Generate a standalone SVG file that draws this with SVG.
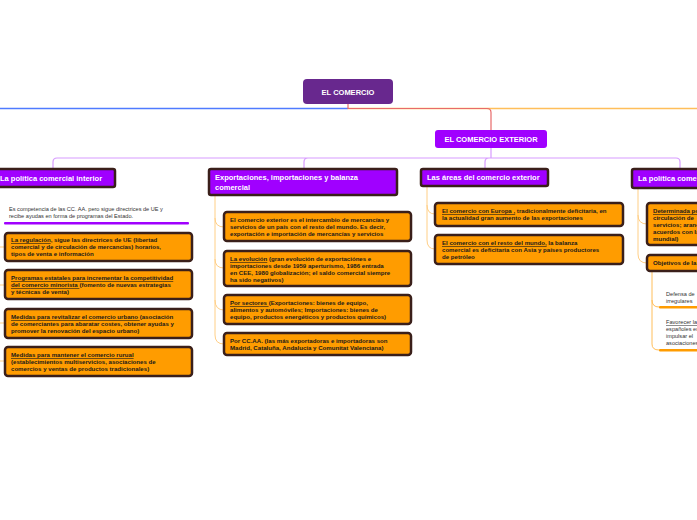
<svg xmlns="http://www.w3.org/2000/svg" width="697" height="520" viewBox="0 0 697 520">
<style>
.hd{fill:#a000ff;stroke:#3a1f1a;stroke-width:2.5}
.ob{fill:#ff9c00;stroke:#3a1f1a;stroke-width:2.5}
.ht{font-family:"Liberation Sans",Arial,sans-serif;font-weight:bold;fill:#fff;font-size:7.5px}
.bt{font-family:"Liberation Sans",Arial,sans-serif;font-weight:bold;fill:#1a1a1a;font-size:6.1px}
.pt{font-family:"Liberation Sans",Arial,sans-serif;fill:#333;font-size:5.6px}
.u{text-decoration:underline}
.ol{fill:none;stroke:#ffcf86;stroke-width:1}
.pl{fill:none;stroke:#d79bff;stroke-width:1.2}
</style>
<g id="connectors">
<path d="M0 108.5H348" stroke="#4f7bff" stroke-width="1.3" fill="none"/>
<path d="M348 108.5H697" stroke="#ffbe5a" stroke-width="1.3" fill="none"/>
<path d="M348 104V108.5H487q4 0 4 4V131" stroke="#e86a6a" stroke-width="1.2" fill="none"/>
<path class="pl" d="M491 147V158M57 158H676q4 0 4 4v8M53 170v-8q0-4 4-4M304 170v-8q0-4 4-4M485 170v-8q0-4 4-4"/>
<path class="ol" d="M215 195V335q0 9 9 9M215 218q0 9 9 9M215 259q0 9 9 9M215 300q0 10 9 10"/>
<path class="ol" d="M427 186V240q0 9 8 9M427 205q0 9 8 9"/>
<path class="ol" d="M638 188V254q0 9 9 9M638 215q0 9 9 9"/>
<path d="M652 271V344q0 6 7 6M652 300q0 7 7 7" fill="none" stroke="#ffbe5a" stroke-width="1"/>
<path class="ol" d="M0 247h5M0 285h5M0 323h5M0 361h5"/>
</g>
<g id="root"><rect x="303" y="79" width="90" height="25" rx="4" fill="#68288e"/><text class="ht" x="348" y="95" text-anchor="middle" font-size="8.5">EL COMERCIO</text></g>
<g id="exterior"><rect x="435" y="130" width="112" height="18" rx="3" fill="#a000ff"/><text class="ht" x="491" y="142" text-anchor="middle" font-size="6.5">EL COMERCIO EXTERIOR</text></g>
<g id="interior"><rect class="hd" x="-5" y="169" width="120" height="18" rx="2"/><text class="ht" x="0" y="181">La política comercial interior</text></g>
<g id="interior-desc"><text class="pt" x="9" y="211">Es competencia de las CC. AA. pero sigue directrices de UE y</text><text class="pt" x="9" y="218">recibe ayudas en forma de programas del Estado.</text><rect x="4" y="222" width="185" height="2.5" rx="1" fill="#a000ff"/></g>
<g id="i1"><rect class="ob" x="5" y="233" width="187" height="28" rx="3"/><text class="bt" x="11" y="242"><tspan class="u">La regulación</tspan>, sigue las directrices de UE (libertad</text><text class="bt" x="11" y="249">comercial y de circulación de mercancías) horarios,</text><text class="bt" x="11" y="256">tipos de venta e información</text></g>
<g id="i2"><rect class="ob" x="5" y="270" width="187" height="29" rx="3"/><text class="bt" x="11" y="280"><tspan class="u">Programas estatales para incrementar la competitividad</tspan></text><text class="bt" x="11" y="287"><tspan class="u">del comercio minorista </tspan>(fomento de nuevas estrategias</text><text class="bt" x="11" y="294">y técnicas de venta)</text></g>
<g id="i3"><rect class="ob" x="5" y="309" width="187" height="29" rx="3"/><text class="bt" x="11" y="319"><tspan class="u">Medidas para revitalizar el comercio urbano </tspan>(asociación</text><text class="bt" x="11" y="326">de comerciantes para abaratar costes, obtener ayudas y</text><text class="bt" x="11" y="333">promover la renovación del espacio urbano)</text></g>
<g id="i4"><rect class="ob" x="5" y="347" width="187" height="29" rx="3"/><text class="bt" x="11" y="357"><tspan class="u">Medidas para mantener el comercio rurual</tspan></text><text class="bt" x="11" y="364">(establecimientos multiservicios, asociaciones de</text><text class="bt" x="11" y="371">comercios y ventas de productos tradicionales)</text></g>
<g id="export"><rect class="hd" x="209" y="169" width="188" height="26" rx="2"/><text class="ht" x="215" y="180">Exportaciones, importaciones y balanza</text><text class="ht" x="215" y="190">comercial</text></g>
<g id="e1"><rect class="ob" x="224" y="212" width="187" height="29" rx="3"/><text class="bt" x="230" y="222">El comercio exterior es el intercambio de mercancías y</text><text class="bt" x="230" y="229">servicios de un país con el resto del mundo. Es decir,</text><text class="bt" x="230" y="236">exportación e importación de mercancías y servicios</text></g>
<g id="e2"><rect class="ob" x="224" y="251" width="187" height="35" rx="3"/><text class="bt" x="230" y="261"><tspan class="u">La evolución</tspan> (gran evolución de exportaciónes e</text><text class="bt" x="230" y="268">importaciones desde 1959 aperturismo, 1986 entrada</text><text class="bt" x="230" y="275">en CEE, 1980 globalización; el saldo comercial siempre</text><text class="bt" x="230" y="282">ha sido negativos)</text></g>
<g id="e3"><rect class="ob" x="224" y="295" width="187" height="29" rx="3"/><text class="bt" x="230" y="305"><tspan class="u">Por sectores </tspan>(Exportaciones: bienes de equipo,</text><text class="bt" x="230" y="312">alimentos y automóviles; Importaciones:  bienes de</text><text class="bt" x="230" y="319">equipo, productos energéticos y productos químicos)</text></g>
<g id="e4"><rect class="ob" x="224" y="333" width="187" height="22" rx="3"/><text class="bt" x="230" y="343">Por CC.AA. (las más exportadoras e importadoras son</text><text class="bt" x="230" y="350">Madrid, Cataluña, Andalucía y Comunitat Valenciana)</text></g>
<g id="areas"><rect class="hd" x="421" y="169" width="127" height="17" rx="2"/><text class="ht" x="427" y="180" font-size="7">Las áreas del comercio exterior</text></g>
<g id="a1"><rect class="ob" x="435" y="203" width="188" height="23" rx="3"/><text class="bt" x="442" y="213"><tspan class="u">El comercio con Europa ,</tspan> tradicionalmente deficitaria, en</text><text class="bt" x="442" y="220">la actualidad gran aumento de las exportaciones</text></g>
<g id="a2"><rect class="ob" x="435" y="235" width="188" height="29" rx="3"/><text class="bt" x="442" y="245"><tspan class="u">El comercio con el resto del mundo,</tspan> la balanza</text><text class="bt" x="442" y="252">comercial es deficitaria con Asia y países productores</text><text class="bt" x="442" y="259">de petróleo</text></g>
<g id="politica-ext"><rect class="hd" x="632" y="169" width="80" height="19" rx="2"/><text class="ht" x="638" y="181">La política comercial exterior</text></g>
<g id="p1"><rect class="ob" x="647" y="203" width="60" height="42" rx="3"/><text class="bt" x="653" y="213"><tspan class="u">Determinada por</tspan></text><text class="bt" x="653" y="220">circulación de</text><text class="bt" x="653" y="227">servicios; aranceles</text><text class="bt" x="653" y="234">acuerdos con la</text><text class="bt" x="653" y="241">mundial)</text></g>
<g id="p2"><rect class="ob" x="647" y="255" width="60" height="16" rx="3"/><text class="bt" x="653" y="265">Objetivos de la política</text></g>
<g id="p3"><text class="pt" x="666" y="296">Defensa de</text><text class="pt" x="666" y="303">irregulares</text><rect x="659" y="306" width="40" height="2.5" rx="1" fill="#ff9c00"/></g>
<g id="p4"><text class="pt u" x="666" y="324">Favorecer la</text><text class="pt" x="666" y="331">españoles en</text><text class="pt" x="666" y="338">impulsar el</text><text class="pt" x="666" y="345">asociaciones</text><rect x="659" y="349" width="40" height="2.5" rx="1" fill="#ff9c00"/></g>
</svg>
